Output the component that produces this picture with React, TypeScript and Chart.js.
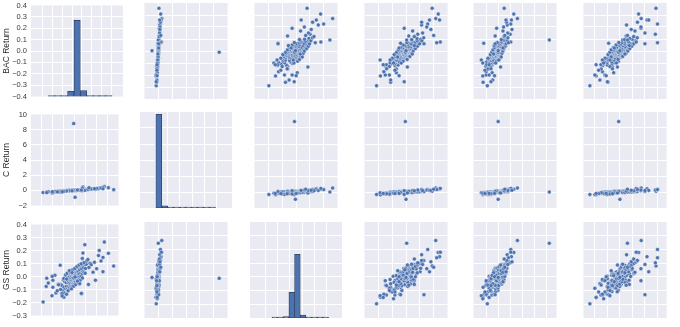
import React, { useEffect, useRef } from "react";
import { Chart, registerables } from "chart.js";

Chart.register(...registerables);

const bacReturns = [
  -0.128, -0.121, -0.117, -0.109, -0.104, -0.098, -0.095, -0.091, -0.087, -0.083,
  -0.079, -0.076, -0.072, -0.069, -0.066, -0.063, -0.061, -0.058, -0.055, -0.053,
  -0.051, -0.048, -0.046, -0.044, -0.042, -0.040, -0.038, -0.036, -0.034, -0.032,
  -0.031, -0.029, -0.027, -0.026, -0.024, -0.022, -0.021, -0.019, -0.018, -0.016,
  -0.015, -0.013, -0.012, -0.010, -0.009, -0.008, -0.006, -0.005, -0.004, -0.003,
  -0.002, -0.001, 0.001, 0.002, 0.003, 0.004, 0.005, 0.006, 0.008, 0.009,
  0.010, 0.012, 0.013, 0.015, 0.016, 0.018, 0.019, 0.021, 0.022, 0.024,
  0.026, 0.027, 0.029, 0.031, 0.033, 0.035, 0.037, 0.039, 0.041, 0.044,
  0.046, 0.049, 0.052, 0.055, 0.058, 0.061, 0.064, 0.068, 0.072, 0.076,
  0.081, 0.086, 0.092, 0.098, 0.105,
  -0.085, -0.070, -0.060, -0.045, -0.030, -0.020, -0.010, 0.000, 0.010, 0.020,
  0.030, 0.040, 0.050, 0.060, 0.070, 0.085, -0.100, -0.115, 0.095, 0.110,
  -0.050, 0.045, -0.025, 0.025, -0.075,
  0.356, 0.270, 0.092, 0.308, 0.258, 0.224, 0.217, 0.189, 0.140, 0.167,
  0.075, 0.069, 0.064, 0.125, 0.240, 0.200, 0.258, -0.289, -0.208, -0.261,
  -0.242, -0.256, -0.200, -0.172, -0.181, -0.200, -0.075, -0.100, 0.060, -0.130,
  -0.150, -0.133, -0.206, -0.148, 0.150, 0.120, 0.180, -0.160, -0.115, 0.130,
  -0.010, 0.003,
];

const cReturns = [
  -0.142, -0.098, -0.133, -0.071, -0.118, -0.064, -0.087, -0.046, -0.102, -0.058,
  -0.081, -0.039, -0.069, -0.095, -0.052, -0.027, -0.074, -0.044, -0.061, -0.019,
  -0.068, -0.036, -0.053, -0.028, -0.047, -0.012, -0.059, -0.024, -0.041, -0.008,
  -0.035, -0.018, -0.039, -0.004, -0.029, -0.015, -0.032, -0.006, -0.024, 0.003,
  -0.019, -0.009, -0.021, 0.006, -0.013, -0.002, -0.011, 0.009, -0.006, 0.002,
  -0.004, 0.007, -0.001, 0.011, 0.004, 0.014, 0.001, 0.016, 0.008, 0.019,
  0.005, 0.021, 0.012, 0.026, 0.009, 0.023, 0.017, 0.029, 0.014, 0.033,
  0.021, 0.036, 0.024, 0.041, 0.028, 0.045, 0.032, 0.049, 0.037, 0.054,
  0.041, 0.061, 0.047, 0.066, 0.053, 0.072, 0.059, 0.078, 0.066, 0.084,
  0.071, 0.092, 0.079, 0.101, 0.088,
  -0.040, -0.090, -0.010, -0.070, 0.020, -0.050, 0.030, -0.030, 0.040, -0.010,
  0.060, 0.010, 0.080, 0.030, 0.095, 0.050, -0.060, -0.120, 0.110, 0.070,
  -0.030, 0.020, -0.060, 0.050, -0.020,
  0.090, 0.500, 0.000, 0.350, 0.400, 0.300, 0.200, 0.150, 0.250, 0.200,
  0.450, 0.300, -0.050, 0.100, 0.300, 0.250, 0.200, -0.300, -0.350, -0.250,
  -0.200, -0.300, -0.250, -0.200, -0.150, -0.320, -0.100, -0.150, 0.050, -0.250,
  -0.100, -0.120, -0.180, -0.220, 0.180, 0.150, 0.220, -0.200, -0.180, 0.350,
  8.800, -0.920,
];

const gsReturns = [
  -0.061, -0.133, -0.070, -0.107, -0.026, -0.082, -0.126, -0.040, -0.018, -0.095,
  -0.047, -0.076, 0.004, -0.099, -0.026, -0.108, -0.007, -0.041, -0.077, 0.004,
  -0.052, -0.005, -0.087, -0.024, 0.023, -0.057, -0.013, -0.071, 0.011, -0.030,
  -0.081, 0.000, 0.029, -0.051, -0.013, -0.066, 0.025, -0.031, 0.013, -0.051,
  0.042, -0.021, -0.054, 0.025, 0.007, -0.063, 0.041, -0.027, 0.004, 0.036,
  -0.036, 0.018, -0.052, 0.045, -0.002, 0.032, -0.037, 0.061, -0.009, 0.018,
  -0.040, 0.043, 0.012, -0.018, 0.063, -0.024, 0.035, 0.004, 0.062, -0.036,
  0.046, -0.001, 0.062, -0.023, 0.038, -0.006, 0.082, 0.020, 0.063, -0.017,
  0.052, 0.000, 0.081, 0.025, 0.072, 0.003, 0.058, 0.023, 0.090, 0.037,
  0.067, 0.030, 0.092, 0.062, 0.094,
  0.012, 0.025, -0.110, 0.035, -0.095, 0.052, -0.075, 0.061, -0.062, 0.077,
  -0.048, 0.089, -0.028, 0.098, -0.012, 0.108, -0.015, -0.132, 0.025, 0.119,
  0.045, -0.055, 0.030, -0.035, -0.020,
  0.080, 0.265, 0.245, 0.178, 0.147, 0.200, 0.161, -0.028, 0.102, 0.033,
  0.180, 0.139, -0.130, -0.061, 0.120, 0.060, 0.037, -0.196, -0.148, -0.076,
  -0.050, -0.013, -0.028, -0.126, 0.009, -0.083, -0.137, -0.160, -0.130, -0.100,
  -0.060, 0.086, 0.001, -0.064, 0.090, 0.130, 0.110, -0.110, -0.150, 0.070,
  -0.011, -0.004,
];

const jpmReturns = [
  -0.146, -0.080, -0.057, -0.110, -0.079, -0.115, -0.045, -0.086, -0.050, -0.095,
  -0.023, -0.069, -0.092, -0.030, -0.042, -0.093, -0.014, -0.063, -0.039, -0.013,
  -0.067, -0.024, -0.077, -0.003, -0.037, -0.010, -0.061, 0.013, -0.038, -0.018,
  -0.061, 0.003, -0.020, -0.043, 0.019, -0.047, -0.001, -0.024, 0.020, -0.054,
  0.008, -0.026, 0.020, -0.043, 0.003, -0.030, 0.036, -0.011, 0.021, -0.040,
  0.011, -0.029, 0.033, -0.010, 0.023, -0.029, 0.012, -0.016, 0.033, -0.008,
  0.013, -0.016, 0.027, 0.003, 0.024, 0.040, -0.017, 0.031, -0.001, 0.058,
  0.015, -0.019, 0.044, 0.060, 0.001, 0.037, 0.016, 0.075, -0.002, 0.053,
  -0.009, 0.068, 0.044, 0.017, 0.079, 0.038, 0.074, 0.015, 0.065, 0.102,
  0.045, 0.081, 0.041, 0.106, 0.079,
  -0.021, 0.008, -0.100, 0.028, -0.085, 0.041, -0.068, 0.052, -0.055, 0.068,
  -0.038, 0.083, -0.021, 0.099, 0.006, 0.115, -0.035, -0.142, 0.041, 0.128,
  -0.060, 0.060, 0.045, -0.050, -0.115,
  0.189, 0.215, 0.005, 0.233, 0.243, 0.157, 0.113, -0.013, 0.085, 0.048,
  0.248, 0.222, -0.039, 0.020, 0.113, 0.150, 0.170, -0.213, -0.185, -0.111,
  -0.111, -0.013, -0.150, -0.160, -0.070, -0.120, -0.187, -0.090, 0.130, -0.120,
  -0.070, 0.010, -0.050, -0.140, 0.120, 0.060, 0.180, -0.080, -0.165, 0.200,
  -0.005, 0.000,
];

const msReturns = [
  -0.204, -0.105, -0.166, -0.115, -0.129, -0.052, -0.070, -0.191, -0.146, -0.038,
  -0.118, -0.078, -0.149, -0.005, -0.161, -0.045, -0.066, -0.018, -0.002, -0.116,
  -0.015, -0.081, -0.040, -0.128, -0.086, 0.027, -0.105, -0.024, -0.046, 0.011,
  -0.004, -0.118, -0.074, 0.037, -0.095, -0.022, -0.047, 0.032, -0.074, 0.016,
  -0.031, 0.056, 0.034, -0.077, -0.090, 0.009, -0.038, 0.057, 0.049, 0.005,
  0.026, -0.050, 0.062, -0.073, 0.046, -0.002, 0.085, -0.051, 0.026, -0.011,
  0.062, -0.055, -0.023, 0.019, -0.031, 0.090, 0.008, 0.052, -0.047, 0.089,
  0.003, 0.067, -0.027, 0.091, -0.003, 0.058, 0.034, 0.120, -0.017, 0.094,
  0.007, 0.079, 0.044, 0.121, 0.013, 0.109, 0.043, 0.091, 0.063, 0.136,
  0.054, 0.105, 0.101, 0.142, 0.147,
  -0.030, 0.020, -0.170, 0.045, -0.130, 0.062, -0.105, 0.078, -0.086, 0.094,
  -0.062, 0.115, -0.039, 0.132, -0.014, 0.151, -0.040, -0.190, 0.052, 0.162,
  0.050, -0.065, -0.075, 0.080, 0.010,
  0.100, 0.320, 0.850, 0.260, 0.220, 0.210, 0.150, -0.025, 0.200, 0.080,
  0.210, 0.170, -0.240, -0.050, 0.140, 0.090, 0.130, -0.180, -0.255, -0.250,
  -0.090, -0.120, -0.200, -0.200, -0.100, -0.150, -0.280, -0.255, -0.050, -0.130,
  -0.170, 0.040, -0.060, -0.120, 0.160, 0.100, 0.230, -0.220, -0.150, 0.110,
  0.000, 0.000,
];

const wfcReturns = [
  -0.061, -0.137, -0.101, -0.064, -0.139, -0.045, -0.102, -0.065, -0.119, -0.017,
  -0.093, -0.044, -0.101, -0.013, -0.069, -0.022, -0.106, -0.040, -0.079, 0.005,
  -0.060, -0.004, -0.081, -0.021, -0.064, 0.009, -0.042, -0.003, -0.065, -0.007,
  -0.032, 0.010, -0.046, -0.010, -0.035, -0.054, 0.024, -0.034, 0.010, -0.066,
  -0.005, 0.044, -0.038, -0.056, 0.025, -0.019, 0.014, -0.062, 0.044, -0.027,
  0.059, -0.040, -0.002, 0.038, -0.041, 0.017, -0.027, 0.057, -0.002, -0.047,
  0.036, -0.006, 0.055, -0.024, 0.020, 0.073, -0.006, -0.031, 0.050, 0.015,
  0.071, -0.018, 0.042, -0.001, 0.067, -0.023, 0.042, 0.078, 0.002, 0.023,
  0.096, -0.004, 0.067, 0.040, 0.011, 0.086, 0.035, 0.111, 0.018, 0.069,
  0.040, 0.114, 0.022, 0.098, 0.078,
  -0.012, -0.015, -0.120, 0.022, -0.095, 0.048, -0.081, 0.063, -0.070, 0.079,
  -0.052, 0.094, -0.031, 0.112, -0.009, 0.128, -0.028, -0.152, 0.038, 0.138,
  -0.070, 0.075, 0.040, -0.045, -0.140,
  0.288, 0.170, 0.060, 0.149, 0.216, 0.300, 0.053, 0.168, 0.283, 0.120,
  0.130, 0.300, -0.090, 0.050, 0.140, 0.168, 0.230, -0.240, -0.190, -0.096,
  -0.160, -0.100, -0.120, -0.140, -0.050, -0.200, -0.080, -0.130, 0.200, -0.080,
  -0.150, -0.020, -0.110, -0.060, 0.200, 0.110, 0.090, -0.170, -0.190, 0.060,
  -0.010, 0.000,
];

// histogram (diagonal) counts, 10 equal bins from each series' min to max
const bacHistCounts = [3, 5, 20, 150, 2180, 170, 15, 6, 3, 2];
const cHistCounts = [2470, 55, 0, 0, 0, 0, 0, 0, 0, 1];
const gsHistCounts = [3, 6, 35, 686, 1700, 80, 10, 5, 2, 2];
const histBinStarts = [-0.289, -0.92, -0.196];
const histBinWidths = [0.0645, 0.972, 0.0461];
const histCountMax = [2600, 2531, 2562];

const rowLabels = ["BAC Return", "C Return", "GS Return"];
const rowTickValues = [
  [-0.4, -0.3, -0.2, -0.1, 0.0, 0.1, 0.2, 0.3, 0.4],
  [-2, 0, 2, 4, 6, 8, 10],
  [-0.3, -0.2, -0.1, 0.0, 0.1, 0.2, 0.3, 0.4],
];
const rowTickDecimals = [1, 0, 1];
const colGridValues = [
  [-0.3, -0.2, -0.1, 0, 0.1, 0.2, 0.3],
  [0, 2, 4, 6, 8],
  [-0.2, -0.1, 0, 0.1, 0.2],
  [-0.2, -0.1, 0, 0.1, 0.2],
  [-0.2, 0, 0.2, 0.4, 0.6, 0.8],
  [-0.2, -0.1, 0, 0.1, 0.2, 0.3],
];
const colRanges = [
  [-0.4, 0.4],
  [-2, 10],
  [-0.3, 0.3],
  [-0.3, 0.3],
  [-0.41, 0.97],
  [-0.291, 0.372],
];

const seriesValues = [bacReturns, cReturns, gsReturns, jpmReturns, msReturns, wfcReturns];
const histCounts = [bacHistCounts, cHistCounts, gsHistCounts];

// ---------- layout ----------
const PANEL_LEFTS = [31, 140, 250, 360, 469, 579];
const PANEL_TOPS = [3, 112, 222];
const PANEL_W = 92;
const PANEL_H = 96;
const PAD_V = 6;
const AXIS_W = 31;
const FONT = "'Liberation Sans', Arial, Helvetica, sans-serif";
const BLUE = "#4C72B0";

const bgPlugin = {
  id: "panelBg",
  beforeDraw(chart: any) {
    const { ctx, chartArea } = chart;
    if (!chartArea) return;
    ctx.save();
    ctx.fillStyle = "#EAEAF2";
    ctx.fillRect(chartArea.left, chartArea.top, chartArea.right - chartArea.left, chartArea.bottom - chartArea.top);
    ctx.restore();
  },
};

function fmt(v: number, d: number) {
  const s = Math.abs(v).toFixed(d);
  return v < 0 ? "\u2212" + s : s;
}

function Panel({ row, col }: { row: number; col: number }) {
  const ref = useRef<HTMLCanvasElement | null>(null);
  const isFirst = col === 0;
  const isDiag = row === col;
  const canvasLeft = isFirst ? PANEL_LEFTS[0] - AXIS_W : PANEL_LEFTS[col];
  const canvasW = isFirst ? AXIS_W + PANEL_W : PANEL_W;
  const canvasTop = PANEL_TOPS[row] - PAD_V;
  const canvasH = PANEL_H + 2 * PAD_V;

  useEffect(() => {
    const canvas = ref.current;
    if (!canvas) return;
    const [xMin, xMax] = colRanges[col];
    const yTicks = rowTickValues[row];
    const yMin = yTicks[0];
    const yMax = yTicks[yTicks.length - 1];

    const datasets: any[] = [];
    if (isDiag) {
      const counts = histCounts[row];
      datasets.push({
        type: "bar",
        data: counts.map((n, i) => ({ x: histBinStarts[row] + histBinWidths[row] * (i + 0.5), y: n })),
        backgroundColor: BLUE,
        borderColor: "#2B4066",
        borderWidth: 0.8,
        borderSkipped: false,
        barPercentage: 1,
        categoryPercentage: 1,
        minBarLength: 1,
        yAxisID: "yc",
      });
    } else {
      const xs = seriesValues[col];
      const ys = seriesValues[row];
      datasets.push({
        type: "scatter",
        data: xs.map((x, i) => ({ x, y: ys[i] })),
        backgroundColor: BLUE,
        borderColor: "rgba(255,255,255,0.8)",
        borderWidth: 0.5,
        pointRadius: 2,
        yAxisID: "y",
        clip: false,
      });
    }

    const gridColor = (min: number, max: number) => (ctx: any) => {
      const v = ctx.tick ? ctx.tick.value : 0;
      return Math.abs(v - min) < 1e-9 || Math.abs(v - max) < 1e-9 ? "rgba(0,0,0,0)" : "#FFFFFF";
    };

    const scales: any = {
      x: {
        type: "linear",
        min: xMin,
        max: xMax,
        afterBuildTicks: (s: any) => {
          s.ticks = colGridValues[col].map((v) => ({ value: v }));
        },
        grid: { color: gridColor(xMin, xMax), lineWidth: 1, drawTicks: false },
        border: { display: false },
        ticks: { display: false },
      },
      y: {
        type: "linear",
        position: "left",
        min: yMin,
        max: yMax,
        afterBuildTicks: (s: any) => {
          s.ticks = yTicks.map((v) => ({ value: v }));
        },
        grid: { color: gridColor(yMin, yMax), lineWidth: 1, drawTicks: false },
        border: { display: false },
        ticks: {
          display: isFirst,
          autoSkip: false,
          padding: 4,
          color: "#3a3a3a",
          font: { family: FONT, size: 7.5 },
          callback: (v: any) => fmt(Number(v), rowTickDecimals[row]),
        },
        title: {
          display: isFirst,
          text: rowLabels[row],
          color: "#2a2a2a",
          font: { family: FONT, size: 8.5 },
          padding: { top: 2, bottom: 0 },
        },
        afterFit: isFirst
          ? (s: any) => {
              s.width = AXIS_W;
            }
          : undefined,
      },
    };
    if (isDiag) {
      scales.yc = { type: "linear", display: false, min: 0, max: histCountMax[row] };
    }

    const chart = new Chart(canvas, {
      type: isDiag ? "bar" : "scatter",
      data: { datasets },
      options: {
        animation: false,
        responsive: false,
        maintainAspectRatio: false,
        devicePixelRatio: 1,
        events: [],
        layout: { padding: { top: PAD_V, bottom: PAD_V, left: 0, right: 0 } },
        plugins: { legend: { display: false }, tooltip: { enabled: false } },
        scales,
      },
      plugins: [bgPlugin],
    } as any);
    return () => chart.destroy();
  }, [row, col]);

  return (
    <canvas
      ref={ref}
      width={canvasW}
      height={canvasH}
      style={{ position: "absolute", left: canvasLeft, top: canvasTop, width: canvasW, height: canvasH }}
    />
  );
}

export default function App() {
  const panels: any[] = [];
  for (let r = 0; r < 3; r++) {
    for (let c = 0; c < 6; c++) {
      panels.push(<Panel key={`${r}-${c}`} row={r} col={c} />);
    }
  }
  return (
    <div
      style={{
        position: "absolute",
        left: 0,
        top: 0,
        width: 680,
        height: 327,
        background: "#FFFFFF",
        overflow: "hidden",
      }}
    >
      {panels}
    </div>
  );
}
